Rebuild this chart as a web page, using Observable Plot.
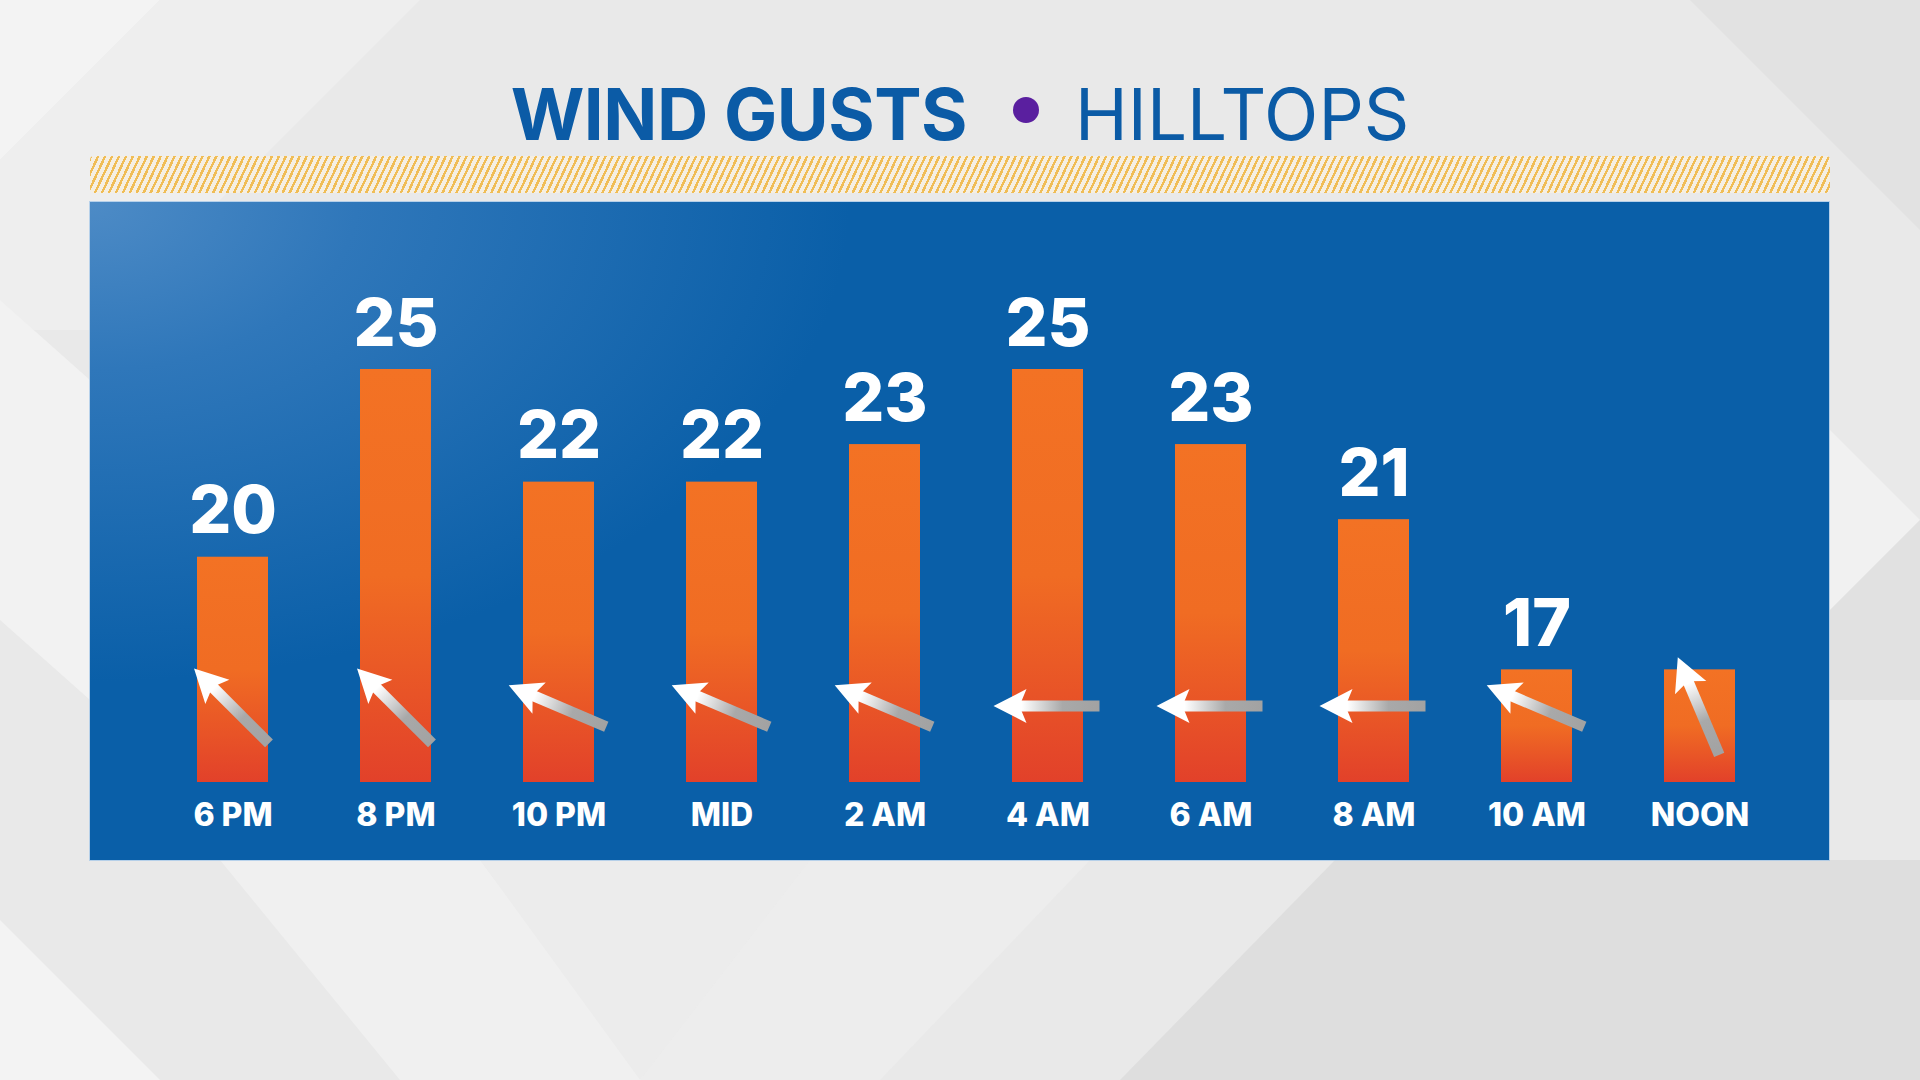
<!DOCTYPE html>
<html>
<head>
<meta charset="utf-8">
<script src="https://cdn.jsdelivr.net/npm/d3@7"></script>
<script src="https://cdn.jsdelivr.net/npm/@observablehq/plot@0.6"></script>
<style>
  html, body { margin: 0; padding: 0; width: 1920px; height: 1080px; overflow: hidden; background: #e9e9e9; font-family: Inter, "Noto Sans", sans-serif; }
  #bg { position: absolute; left: 0; top: 0; }
  #title { position: absolute; left: 0; top: 79px; width: 1920px; text-align: center; font-size: 71px; line-height: 71px; color: #0b5ba6; white-space: nowrap; }
  #title .b { font-weight: 700; letter-spacing: -0.5px; }
  #title .r { font-weight: 400; }
  #title .dot { display: inline-block; width: 26px; height: 26px; border-radius: 50%; background: #5a1f9f; vertical-align: 17px; margin: 0 36px 0 46px; }
  #hatch { position: absolute; left: 90px; top: 156px; width: 1740px; height: 37px; border-radius: 4px;
    background: repeating-linear-gradient(115deg, #f0bd56 0px, #f0bd56 2.4px, #f5efe3 2.4px, #f5efe3 6.3px); }
  #chart { position: absolute; left: 90px; top: 202px; }
</style>
</head>
<body>
<svg id="bg" width="1920" height="1080">
  <rect width="1920" height="1080" fill="#e9e9e9"/>
  <polygon points="0,0 160,0 0,160" fill="#f3f3f3"/>
  <polygon points="160,0 420,0 90,330 0,330 0,160" fill="#eeeeee"/>
  <polygon points="0,300 90,380 90,700 0,620" fill="#f2f2f2"/>
  <polygon points="1690,0 1920,0 1920,230" fill="#e2e2e2"/>
  <polygon points="1830,430 1920,520 1830,610" fill="#f1f1f1"/>
  <polygon points="1830,610 1920,520 1920,700 1830,700" fill="#e1e1e1"/>
  <polygon points="220,860 480,860 645,1080 400,1080" fill="#f0f0f0"/>
  <polygon points="480,860 810,860 640,1080" fill="#ececec"/>
  <polygon points="810,860 1090,860 880,1080 640,1080" fill="#ededed"/>
  <polygon points="1335,860 1920,860 1920,1080 1120,1080" fill="#dedede"/>
  <polygon points="0,920 0,1080 160,1080" fill="#f3f3f3"/>
</svg>
<div id="title"><span class="b">WIND GUSTS</span><span class="dot"></span><span class="r">HILLTOPS</span></div>
<div id="hatch"></div>
<div id="chart"></div>
<script>
// ---- data ----
const times = ["6 PM", "8 PM", "10 PM", "MID", "2 AM", "4 AM", "6 AM", "8 AM", "10 AM", "NOON"];
const gusts = [20, 25, 22, 22, 23, 25, 23, 21, 17, 17];
const gustLabels = ["20", "25", "22", "22", "23", "25", "23", "21", "17", ""];
const windFrom = [135, 135, 113, 113, 113, 90, 90, 90, 113, 157]; // meteorological direction (degrees, wind coming from)
const yBase = 14;
const yTop = 25;

const rows = times.map((t, i) => ({time: t, gust: gusts[i], label: gustLabels[i], from: windFrom[i]}));

// gradients for bars and arrow shafts
function gradientDefs() {
  const defs = d3.create("svg:defs");
  const bg = defs.append("linearGradient").attr("id", "barGrad").attr("x1", 0).attr("y1", 0).attr("x2", 0).attr("y2", 1);
  bg.append("stop").attr("offset", "0").attr("stop-color", "#f37224");
  bg.append("stop").attr("offset", "0.5").attr("stop-color", "#f06c23");
  bg.append("stop").attr("offset", "1").attr("stop-color", "#e2412a");
  const sg = defs.append("linearGradient").attr("id", "shaftGrad").attr("x1", 0).attr("y1", 0).attr("x2", 1).attr("y2", 0);
  sg.append("stop").attr("offset", "0").attr("stop-color", "#a2a2a2");
  sg.append("stop").attr("offset", "0.45").attr("stop-color", "#a9a9a9");
  sg.append("stop").attr("offset", "0.95").attr("stop-color", "#ffffff");
  return defs.node();
}

// wind direction arrows, positioned with the plot's scales
function windArrows(index, scales) {
  const {x, y} = scales;
  const g = d3.create("svg:g");
  const bw = x.bandwidth();
  const cy = y(yBase) - 76;
  rows.forEach(d => {
    const cx = x(d.time) + bw / 2 - 1;
    const rot = ((d.from + 180) % 360) - 90;
    const a = g.append("g").attr("transform", `translate(${cx},${cy}) rotate(${rot})`);
    a.append("rect").attr("x", -53).attr("y", -5.5).attr("width", 82).attr("height", 11).attr("fill", "url(#shaftGrad)");
    a.append("path").attr("d", "M53,0 L20,-17 L27,0 L20,17 Z").attr("fill", "#ffffff");
  });
  return g.node();
}

const chart = Plot.plot({
  width: 1739,
  height: 658,
  marginTop: 167,
  marginBottom: 78,
  marginLeft: 56.5,
  marginRight: 44.5,
  style: "font-family: Inter, 'Noto Sans', sans-serif; overflow: visible; box-shadow: 0 0 0 1px rgba(160,196,232,0.7); background: radial-gradient(ellipse 760px 480px at 0% 0%, #4d8bc6 0%, #2f77ba 35%, rgba(10,95,168,0) 100%), #0a5fa8;",
  x: {type: "band", domain: times, paddingInner: 0.565, paddingOuter: 0.3, axis: null},
  y: {domain: [yBase, yTop], axis: null},
  marks: [
    gradientDefs,
    Plot.barY(rows, {x: "time", y1: () => yBase, y2: "gust", fill: "url(#barGrad)"}),
    windArrows,
    Plot.text(rows, {x: "time", y: "gust", text: "label", dy: -24, lineAnchor: "bottom", fill: "white", fontSize: 66, fontWeight: 800}),
    Plot.text(rows, {x: "time", y: () => yBase, text: "time", dy: 21, lineAnchor: "top", fill: "white", fontSize: 32, fontWeight: 800})
  ]
});
document.getElementById("chart").appendChild(chart);
</script>
</body>
</html>
